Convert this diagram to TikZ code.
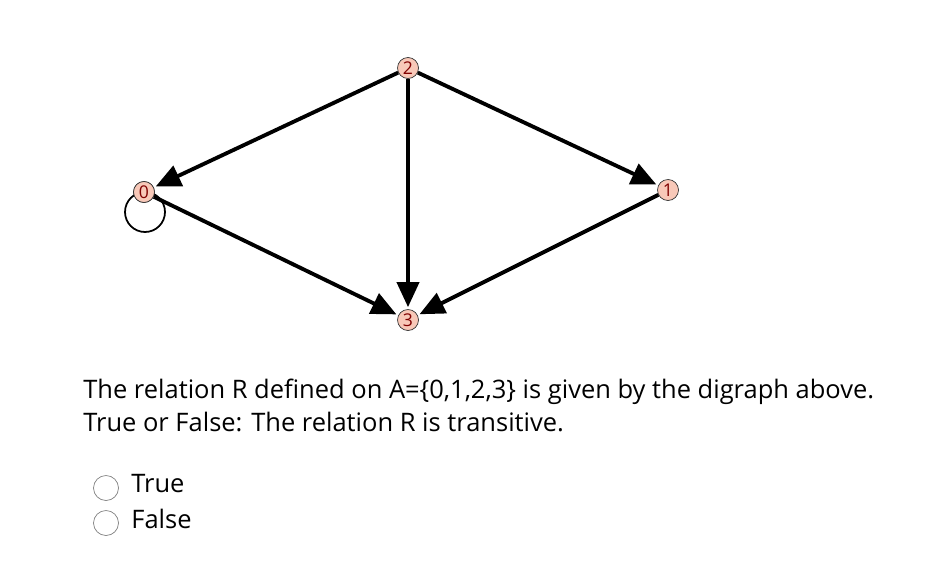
\documentclass[tikz,border=0pt]{standalone}
\usepackage{fontspec}
\setmainfont{Open Sans}
\usetikzlibrary{arrows.meta}
\begin{document}
\begin{tikzpicture}[x=0.02cm,y=-0.02cm,
  vert/.style={circle,draw=black!80,fill={rgb,255:red,248;green,200;blue,184},inner sep=0pt,minimum size=0.42cm,font=\fontsize{10}{10}\selectfont\color{red!50!black}},
  edge/.style={line width=2.2pt,-{Triangle[length=0.5cm,width=0.44cm]},shorten >=0.04cm},
  radio/.style={circle,draw=black!50,minimum size=0.5cm,inner sep=0pt},
  txt/.style={anchor=base west,font=\fontsize{14.5}{18}\selectfont,inner sep=0pt}]
\useasboundingbox (0,0) rectangle (945,575);
\node[vert] (n2) at (408,68) {2};
\node[vert] (n0) at (144,192) {0};
\node[vert] (n1) at (668,190) {1};
\node[vert] (n3) at (408,320) {3};
\draw[line width=1pt] (145,212) circle (0.4cm);
\node[vert] at (144,192) {0};
\draw[edge] (n2) -- (n0);
\draw[edge] (n2) -- (n1);
\draw[edge] (n2) -- (n3);
\draw[edge] (n0) -- (n3);
\draw[edge] (n1) -- (n3);
\node[txt] (t1) at (83,398) {The relation R defined on A=\{0,1,2,3\} is given by the digraph above.};
\node[txt] (t2) at (83,431) {True or False: The relation R is transitive.};
\node[radio] (r1) at (106,488) {};
\node[radio] (r2) at (106,523) {};
\node[txt] (l1) at (131,492) {True};
\node[txt] (l2) at (131,528) {False};
\end{tikzpicture}
\end{document}
